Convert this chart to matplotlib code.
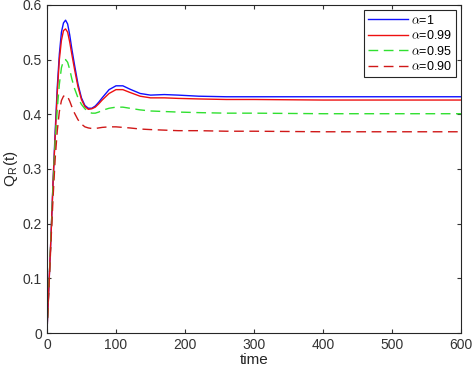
import matplotlib
matplotlib.use("Agg")
import matplotlib.pyplot as plt

plt.rcParams['font.family'] = ['Liberation Sans', 'DejaVu Sans']
plt.rcParams['mathtext.fontset'] = 'cm'

# time samples
t = [0, 3, 6, 9, 12, 15, 18, 21, 24, 27, 30, 33, 36, 40, 45, 50, 55, 60, 65, 70,
     75, 80, 90, 100, 110, 120, 135, 150, 170, 190, 220, 260, 300, 400, 500, 600]

q_100 = [0, 0.09, 0.18, 0.28, 0.37, 0.45, 0.51, 0.55, 0.567, 0.572, 0.565, 0.545,
         0.52, 0.49, 0.455, 0.43, 0.416, 0.411, 0.411, 0.415, 0.422, 0.43, 0.445,
         0.452, 0.452, 0.446, 0.438, 0.435, 0.436, 0.435, 0.433, 0.432, 0.432,
         0.432, 0.432, 0.432]
q_099 = [0, 0.09, 0.18, 0.28, 0.36, 0.44, 0.50, 0.535, 0.553, 0.556, 0.55, 0.532,
         0.51, 0.482, 0.45, 0.427, 0.414, 0.409, 0.41, 0.413, 0.419, 0.426, 0.438,
         0.445, 0.445, 0.44, 0.433, 0.43, 0.43, 0.429, 0.428, 0.427, 0.427, 0.426,
         0.426, 0.426]
q_095 = [0, 0.09, 0.18, 0.27, 0.35, 0.41, 0.455, 0.485, 0.498, 0.50, 0.495, 0.482,
         0.465, 0.447, 0.43, 0.418, 0.41, 0.405, 0.402, 0.402, 0.404, 0.407, 0.411,
         0.413, 0.413, 0.411, 0.408, 0.406, 0.405, 0.404, 0.403, 0.402, 0.402,
         0.401, 0.401, 0.401]
q_090 = [0, 0.085, 0.17, 0.25, 0.32, 0.37, 0.405, 0.425, 0.433, 0.435, 0.432, 0.424,
         0.414, 0.402, 0.39, 0.382, 0.377, 0.375, 0.374, 0.374, 0.375, 0.376, 0.377,
         0.377, 0.376, 0.375, 0.373, 0.372, 0.371, 0.37, 0.37, 0.369, 0.369, 0.368,
         0.368, 0.368]

labels = [r'$\alpha$=1', r'$\alpha$=0.99', r'$\alpha$=0.95', r'$\alpha$=0.90']
xticks = [0, 100, 200, 300, 400, 500, 600]
yticks = [0, 0.1, 0.2, 0.3, 0.4, 0.5, 0.6]

fig = plt.figure(figsize=(4.74, 3.73), dpi=100)
ax = fig.add_axes([0.099, 0.107, 0.874, 0.88])

ax.plot(t, q_100, color='#1010ff', lw=1.0, label=labels[0])
ax.plot(t, q_099, color='#ee1010', lw=1.0, label=labels[1])
ax.plot(t, q_095, color='#30e030', lw=1.0, ls=(0, (7, 4)), label=labels[2])
ax.plot(t, q_090, color='#d01818', lw=1.0, ls=(0, (7, 4)), label=labels[3])

ax.set_xlim(0, 600)
ax.set_ylim(0, 0.6)
ax.set_xticks(xticks)
ax.set_yticks(yticks)
ax.set_yticklabels(['0', '0.1', '0.2', '0.3', '0.4', '0.5', '0.6'])
ax.tick_params(direction='in', top=True, right=True, length=3, labelsize=10,
               colors='#333333', width=0.8)
for s in ax.spines.values():
    s.set_color('#262626')
    s.set_linewidth(0.8)

ax.set_xlabel('time', fontsize=11, color='#262626', labelpad=1)
ax.set_ylabel('Q$_\\mathregular{R}$(t)', fontsize=11, color='#262626', labelpad=2)

leg = ax.legend(loc='upper right', fontsize=9, fancybox=False, framealpha=1,
                edgecolor='#262626', borderaxespad=0.4, handlelength=3.2,
                handletextpad=0.3, labelspacing=0.2, borderpad=0.3)
leg.get_frame().set_linewidth(0.8)

fig.savefig('out.png', dpi=100)
